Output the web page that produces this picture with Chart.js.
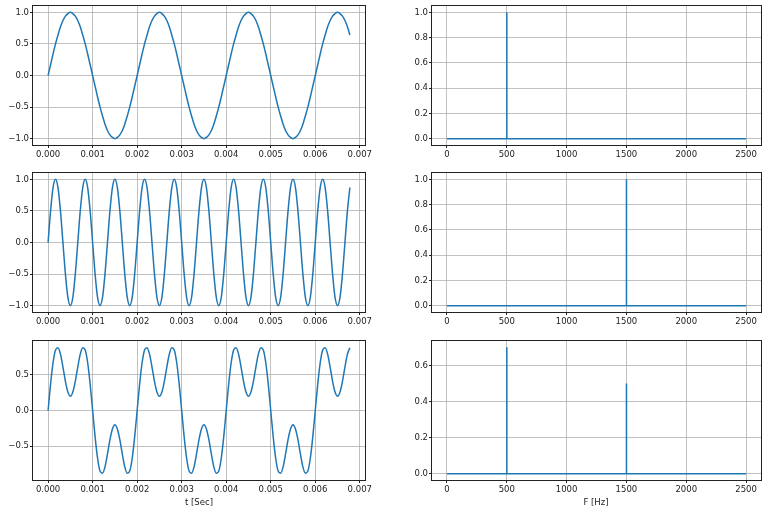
<!DOCTYPE html>
<html>
<head>
<meta charset="utf-8">
<script src="https://cdn.jsdelivr.net/npm/chart.js@4.4.0/dist/chart.umd.min.js"></script>
<style>
body{margin:0;background:#fff;overflow:hidden;width:768px;height:513px;position:relative;font-family:"DejaVu Sans",sans-serif}
canvas{position:absolute}
.xlab{position:absolute;font-size:8.5px;line-height:10px;color:#222;transform:translateX(-50%);white-space:nowrap}
</style>
</head>
<body>
<canvas id="sig1" width="379" height="161" style="left:0px;top:2px"></canvas>
<canvas id="sig2" width="379" height="161" style="left:0px;top:169px"></canvas>
<canvas id="sig3" width="379" height="161" style="left:0px;top:337px"></canvas>
<canvas id="fft1" width="376" height="161" style="left:399px;top:2px"></canvas>
<canvas id="fft2" width="376" height="161" style="left:399px;top:169px"></canvas>
<canvas id="fft3" width="376" height="161" style="left:399px;top:337px"></canvas>
<div class="xlab" style="left:199px;top:497px">t [Sec]</div>
<div class="xlab" style="left:596px;top:497px">F [Hz]</div>
<script>
// time samples [s]
const t = [
  0, 0.0000556, 0.0001111, 0.0001667, 0.0002222, 0.0002778, 0.0003333, 0.0003889, 0.0004444, 0.0005, 0.0005556, 0.0006111, 0.0006667, 0.0007222, 0.0007778, 0.0008333, 0.0008889, 0.0009444,
  0.001, 0.0010556, 0.0011111, 0.0011667, 0.0012222, 0.0012778, 0.0013333, 0.0013889, 0.0014444, 0.0015, 0.0015556, 0.0016111, 0.0016667, 0.0017222, 0.0017778, 0.0018333, 0.0018889, 0.0019444,
  0.002, 0.0020556, 0.0021111, 0.0021667, 0.0022222, 0.0022778, 0.0023333, 0.0023889, 0.0024444, 0.0025, 0.0025556, 0.0026111, 0.0026667, 0.0027222, 0.0027778, 0.0028333, 0.0028889, 0.0029444,
  0.003, 0.0030556, 0.0031111, 0.0031667, 0.0032222, 0.0032778, 0.0033333, 0.0033889, 0.0034444, 0.0035, 0.0035556, 0.0036111, 0.0036667, 0.0037222, 0.0037778, 0.0038333, 0.0038889, 0.0039444,
  0.004, 0.0040556, 0.0041111, 0.0041667, 0.0042222, 0.0042778, 0.0043333, 0.0043889, 0.0044444, 0.0045, 0.0045556, 0.0046111, 0.0046667, 0.0047222, 0.0047778, 0.0048333, 0.0048889, 0.0049444,
  0.005, 0.0050556, 0.0051111, 0.0051667, 0.0052222, 0.0052778, 0.0053333, 0.0053889, 0.0054444, 0.0055, 0.0055556, 0.0056111, 0.0056667, 0.0057222, 0.0057778, 0.0058333, 0.0058889, 0.0059444,
  0.006, 0.0060556, 0.0061111, 0.0061667, 0.0062222, 0.0062778, 0.0063333, 0.0063889, 0.0064444, 0.0065, 0.0065556, 0.0066111, 0.0066667, 0.0067222, 0.0067778
];

// 500 Hz signal
const sig500 = [
  0, 0.17, 0.34, 0.5, 0.64, 0.77, 0.87, 0.94, 0.98, 1, 0.98, 0.94, 0.87, 0.77, 0.64, 0.5, 0.34, 0.17,
  0, -0.17, -0.34, -0.5, -0.64, -0.77, -0.87, -0.94, -0.98, -1, -0.98, -0.94, -0.87, -0.77, -0.64, -0.5, -0.34, -0.17,
  0, 0.17, 0.34, 0.5, 0.64, 0.77, 0.87, 0.94, 0.98, 1, 0.98, 0.94, 0.87, 0.77, 0.64, 0.5, 0.34, 0.17,
  0, -0.17, -0.34, -0.5, -0.64, -0.77, -0.87, -0.94, -0.98, -1, -0.98, -0.94, -0.87, -0.77, -0.64, -0.5, -0.34, -0.17,
  0, 0.17, 0.34, 0.5, 0.64, 0.77, 0.87, 0.94, 0.98, 1, 0.98, 0.94, 0.87, 0.77, 0.64, 0.5, 0.34, 0.17,
  0, -0.17, -0.34, -0.5, -0.64, -0.77, -0.87, -0.94, -0.98, -1, -0.98, -0.94, -0.87, -0.77, -0.64, -0.5, -0.34, -0.17,
  0, 0.17, 0.34, 0.5, 0.64, 0.77, 0.87, 0.94, 0.98, 1, 0.98, 0.94, 0.87, 0.77, 0.64
];

// 1500 Hz signal
const sig1500 = [
  0, 0.5, 0.87, 1, 0.87, 0.5, 0, -0.5, -0.87, -1, -0.87, -0.5, 0, 0.5, 0.87, 1, 0.87, 0.5,
  0, -0.5, -0.87, -1, -0.87, -0.5, 0, 0.5, 0.87, 1, 0.87, 0.5, 0, -0.5, -0.87, -1, -0.87, -0.5,
  0, 0.5, 0.87, 1, 0.87, 0.5, 0, -0.5, -0.87, -1, -0.87, -0.5, 0, 0.5, 0.87, 1, 0.87, 0.5,
  0, -0.5, -0.87, -1, -0.87, -0.5, 0, 0.5, 0.87, 1, 0.87, 0.5, 0, -0.5, -0.87, -1, -0.87, -0.5,
  0, 0.5, 0.87, 1, 0.87, 0.5, 0, -0.5, -0.87, -1, -0.87, -0.5, 0, 0.5, 0.87, 1, 0.87, 0.5,
  0, -0.5, -0.87, -1, -0.87, -0.5, 0, 0.5, 0.87, 1, 0.87, 0.5, 0, -0.5, -0.87, -1, -0.87, -0.5,
  0, 0.5, 0.87, 1, 0.87, 0.5, 0, -0.5, -0.87, -1, -0.87, -0.5, 0, 0.5, 0.87
];

// mixed signal (500 Hz + 1500 Hz)
const sigMix = [
  0, 0.37, 0.67, 0.85, 0.88, 0.79, 0.61, 0.41, 0.26, 0.2, 0.26, 0.41, 0.61, 0.79, 0.88, 0.85, 0.67, 0.37,
  0, -0.37, -0.67, -0.85, -0.88, -0.79, -0.61, -0.41, -0.26, -0.2, -0.26, -0.41, -0.61, -0.79, -0.88, -0.85, -0.67, -0.37,
  0, 0.37, 0.67, 0.85, 0.88, 0.79, 0.61, 0.41, 0.26, 0.2, 0.26, 0.41, 0.61, 0.79, 0.88, 0.85, 0.67, 0.37,
  0, -0.37, -0.67, -0.85, -0.88, -0.79, -0.61, -0.41, -0.26, -0.2, -0.26, -0.41, -0.61, -0.79, -0.88, -0.85, -0.67, -0.37,
  0, 0.37, 0.67, 0.85, 0.88, 0.79, 0.61, 0.41, 0.26, 0.2, 0.26, 0.41, 0.61, 0.79, 0.88, 0.85, 0.67, 0.37,
  0, -0.37, -0.67, -0.85, -0.88, -0.79, -0.61, -0.41, -0.26, -0.2, -0.26, -0.41, -0.61, -0.79, -0.88, -0.85, -0.67, -0.37,
  0, 0.37, 0.67, 0.85, 0.88, 0.79, 0.61, 0.41, 0.26, 0.2, 0.26, 0.41, 0.61, 0.79, 0.88
];

// spectra
const freqA = [0, 499, 500, 501, 2500];
const specA = [0, 0, 1, 0, 0];
const freqB = [0, 1499, 1500, 1501, 2500];
const specB = [0, 0, 1, 0, 0];
const freqC = [0, 499, 500, 501, 1499, 1500, 1501, 2500];
const specC = [0, 0, 0.7, 0, 0, 0.5, 0, 0];

// ticks
const tTicks = [0, 0.001, 0.002, 0.003, 0.004, 0.005, 0.006, 0.007];
const tTickLabels = ['0.000', '0.001', '0.002', '0.003', '0.004', '0.005', '0.006', '0.007'];
const fTicks = [0, 500, 1000, 1500, 2000, 2500];
const fTickLabels = ['0', '500', '1000', '1500', '2000', '2500'];
const ampTicks = [-1, -0.5, 0, 0.5, 1];
const ampTickLabels = ['\u22121.0', '\u22120.5', '0.0', '0.5', '1.0'];
const mixTicks = [-0.5, 0, 0.5];
const mixTickLabels = ['\u22120.5', '0.0', '0.5'];
const specTicks = [0, 0.2, 0.4, 0.6, 0.8, 1];
const specTickLabels = ['0.0', '0.2', '0.4', '0.6', '0.8', '1.0'];
const specCTicks = [0, 0.2, 0.4, 0.6];
const specCTickLabels = ['0.0', '0.2', '0.4', '0.6'];

const frame = {
  id: 'frame',
  afterDraw(chart){
    const a = chart.chartArea, ctx = chart.ctx;
    ctx.save();
    ctx.strokeStyle = '#222';
    ctx.lineWidth = 1;
    ctx.strokeRect(a.left - 0.5, a.top - 0.5, a.right - a.left + 1, a.bottom - a.top + 1);
    ctx.restore();
  }
};

function axis(min, max, vals, labels, isX){
  return {
    type: 'linear',
    min: min,
    max: max,
    afterBuildTicks: s => { s.ticks = vals.map(v => ({value: v})) },
    afterFit: s => {
      s.paddingLeft = 0; s.paddingRight = 0; s.paddingTop = 0; s.paddingBottom = 0;
      if (isX) s.height = 18; else s.width = 33;
    },
    ticks: {
      autoSkip: false, maxRotation: 0, padding: isX ? 2 : 1,
      color: '#222', font: {family: 'DejaVu Sans', size: 8.5},
      callback: (v, i) => labels[i]
    },
    grid: {color: '#b0b0b0', lineWidth: 0.8, tickLength: 3, tickColor: '#222', tickWidth: 1},
    border: {display: false}
  };
}

function plot(id, xs, ys, xScale, yScale, smooth){
  new Chart(document.getElementById(id), {
    type: 'line',
    data: {
      labels: xs,
      datasets: [{
        data: ys,
        borderColor: '#1f77b4',
        borderWidth: 1.5,
        pointRadius: 0,
        fill: false,
        tension: 0,
        cubicInterpolationMode: smooth ? 'monotone' : 'default'
      }]
    },
    options: {
      responsive: false,
      animation: false,
      events: [],
      layout: {padding: {top: 4, right: 14, bottom: 0, left: 0}},
      plugins: {legend: {display: false}, tooltip: {enabled: false}},
      scales: {x: xScale, y: yScale}
    },
    plugins: [frame]
  });
}

plot('sig1', t, sig500, axis(-0.000339, 0.007117, tTicks, tTickLabels, true), axis(-1.1, 1.1, ampTicks, ampTickLabels, false), true);
plot('sig2', t, sig1500, axis(-0.000339, 0.007117, tTicks, tTickLabels, true), axis(-1.1, 1.1, ampTicks, ampTickLabels, false), true);
plot('sig3', t, sigMix, axis(-0.000339, 0.007117, tTicks, tTickLabels, true), axis(-0.975, 0.975, mixTicks, mixTickLabels, false), true);
plot('fft1', freqA, specA, axis(-125, 2625, fTicks, fTickLabels, true), axis(-0.05, 1.05, specTicks, specTickLabels, false), false);
plot('fft2', freqB, specB, axis(-125, 2625, fTicks, fTickLabels, true), axis(-0.05, 1.05, specTicks, specTickLabels, false), false);
plot('fft3', freqC, specC, axis(-125, 2625, fTicks, fTickLabels, true), axis(-0.035, 0.735, specCTicks, specCTickLabels, false), false);
</script>
</body>
</html>
